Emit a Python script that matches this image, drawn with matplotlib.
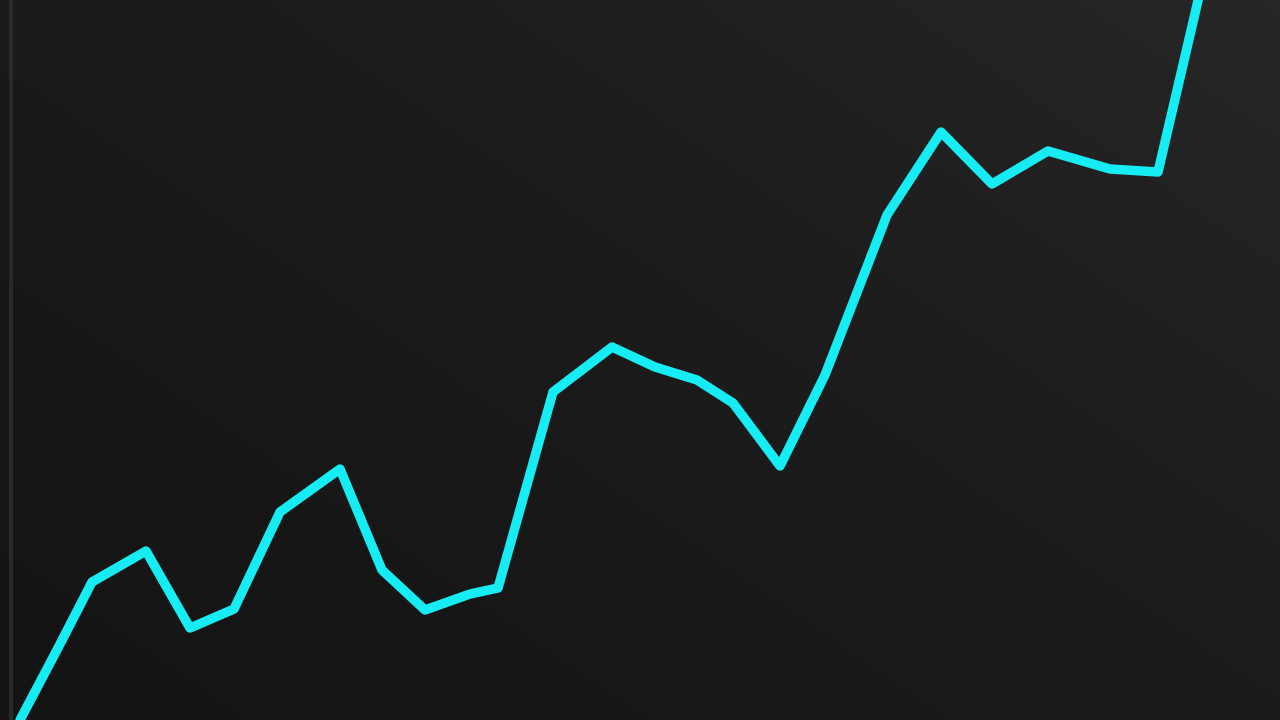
import numpy as np
import matplotlib
matplotlib.use("Agg")
from matplotlib import pyplot as plt

# line data (x = step, y = value)
steps = [20, 58, 92, 146, 190, 234, 280, 340, 382, 425, 470, 498, 553, 612,
         655, 697, 733, 780, 825, 887, 941, 992, 1048, 1110, 1158, 1200]
values = [0, 72, 138, 169, 92, 111, 208, 251, 150, 110, 126, 132, 328, 373,
          353, 340, 317, 254, 345, 505, 588, 536, 569, 551, 548, 728]

fig = plt.figure(figsize=(12.8, 7.2), dpi=100)
ax = fig.add_axes([0, 0, 1, 1])
ax.set_xlim(0, 1280)
ax.set_ylim(0, 720)
ax.axis("off")

# dark background, a little lighter towards top right
gx, gy = np.meshgrid(np.linspace(0, 1, 256), np.linspace(0, 1, 256))
shade = 0.08 + 0.07 * (0.55 * gx + 0.45 * gy) ** 1.5
bg = np.dstack([shade, shade, shade])
ax.imshow(bg, extent=[0, 1280, 0, 720], origin="lower", aspect="auto", zorder=0)

# faint vertical strip on the left edge
ax.axvline(11, color="#2a2a2a", lw=3, zorder=1)

ax.plot(steps, values, color="#16ECF4", lw=6.8, solid_joinstyle="round",
        solid_capstyle="round", zorder=3)

fig.savefig("out.png", dpi=100)
